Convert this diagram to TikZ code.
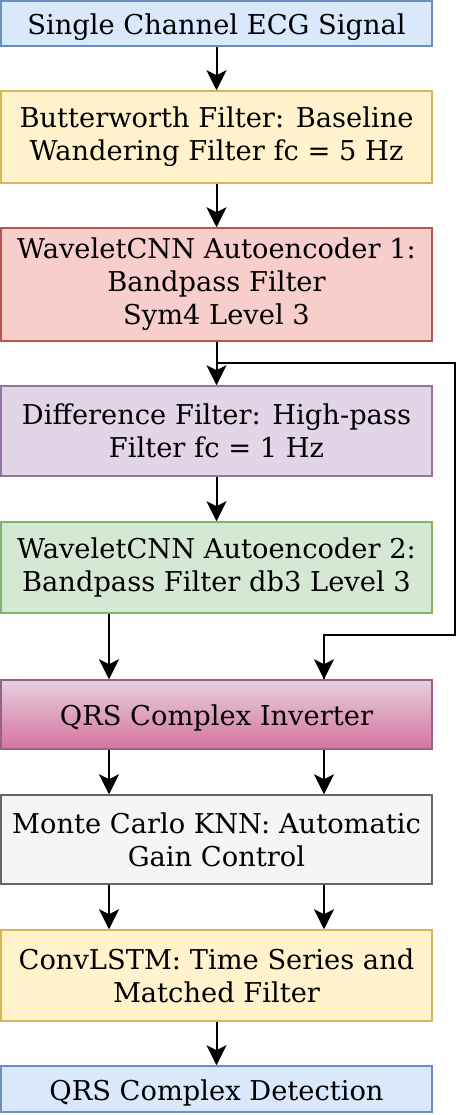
\documentclass[tikz,border=0pt]{standalone}
\usepackage{fontspec}
\setmainfont{DejaVu Serif}
\usetikzlibrary{arrows.meta,calc}
\definecolor{bluef}{HTML}{DAE8FC}\definecolor{blued}{HTML}{6C8EBF}
\definecolor{yelf}{HTML}{FFF2CC}\definecolor{yeld}{HTML}{D6B656}
\definecolor{redf}{HTML}{F8CECC}\definecolor{redd}{HTML}{B85450}
\definecolor{purf}{HTML}{E1D5E7}\definecolor{purd}{HTML}{9673A6}
\definecolor{grnf}{HTML}{D5E8D4}\definecolor{grnd}{HTML}{82B366}
\definecolor{pinkt}{HTML}{E6D0DE}\definecolor{pinkb}{HTML}{D5739D}\definecolor{pinkd}{HTML}{996185}
\definecolor{grayf}{HTML}{F5F5F5}\definecolor{grayd}{HTML}{666666}
\tikzset{
  box/.style={rectangle, line width=1.5pt, minimum width=431pt, inner sep=0pt, align=center,
    font=\fontsize{27.3}{33}\selectfont, text=black,
    execute at begin node={\rule{0pt}{28pt}}},
  arr/.style={line width=2pt, -{Stealth[length=20pt,width=20pt,inset=5pt]}},
  ln/.style={line width=2pt}
}
\begin{document}
\begin{tikzpicture}[x=1pt,y=-1pt]
\useasboundingbox (0,0) rectangle (474,1115);
\node[box, fill=bluef, draw=blued, minimum height=45pt] (b1) at (216.5,23.5) {Single Channel ECG Signal};
\node[box, fill=yelf, draw=yeld, minimum height=92pt] (b2) at (216.5,137) {Butterworth Filter: Baseline\\Wandering Filter fc = 5 Hz};
\node[box, fill=redf, draw=redd, minimum height=113pt] (b3) at (216.5,284.5) {WaveletCNN Autoencoder 1:\\Bandpass Filter\\Sym4 Level 3};
\node[box, fill=purf, draw=purd, minimum height=90pt] (b4) at (216.5,431) {Difference Filter: High-pass\\Filter fc = 1 Hz};
\node[box, fill=grnf, draw=grnd, minimum height=91pt] (b5) at (216.5,567.5) {WaveletCNN Autoencoder 2:\\Bandpass Filter db3 Level 3};
\node[box, top color=pinkt, bottom color=pinkb, draw=pinkd, minimum height=69pt] (b6) at (216.5,714.5) {QRS Complex Inverter};
\node[box, fill=grayf, draw=grayd, minimum height=89pt] (b7) at (216.5,839.5) {Monte Carlo KNN: Automatic\\Gain Control};
\node[box, fill=yelf, draw=yeld, minimum height=91pt] (b8) at (216.5,975.5) {ConvLSTM: Time Series and\\Matched Filter};
\node[box, fill=bluef, draw=blued, minimum height=46pt] (b9) at (216.5,1089) {QRS Complex Detection};
\coordinate (xl) at (109,0);
\coordinate (xr) at (324,0);
\coordinate (r1) at (455,363);
\coordinate (r2) at (455,635);
\draw[arr] (b1) -- (b2);
\draw[arr] (b2) -- (b3);
\draw[arr] (b3) -- (b4);
\draw[arr] (b4) -- (b5);
\draw[ln] (b3.south) |- (r1) -- (r2) -| (b6.north -| xr);
\draw[arr] (r2 -| xr) -- (b6.north -| xr);
\draw[arr] (b5.south -| xl) -- (b6.north -| xl);
\draw[arr] (b6.south -| xl) -- (b7.north -| xl);
\draw[arr] (b6.south -| xr) -- (b7.north -| xr);
\draw[arr] (b7.south -| xl) -- (b8.north -| xl);
\draw[arr] (b7.south -| xr) -- (b8.north -| xr);
\draw[arr] (b8) -- (b9);
\end{tikzpicture}
\end{document}
